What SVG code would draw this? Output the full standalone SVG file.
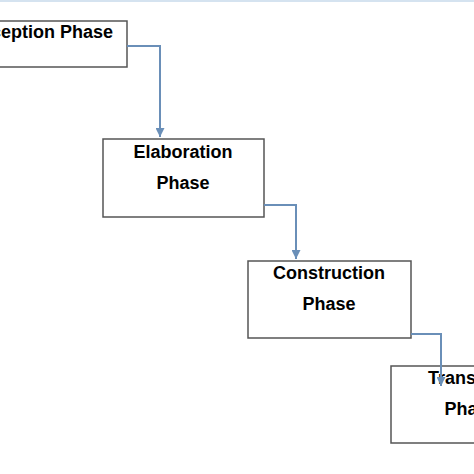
<svg xmlns="http://www.w3.org/2000/svg" width="474" height="474" viewBox="0 0 474 474">
<defs>
<marker id="ah" viewBox="0 0 10 10" refX="10" refY="5" markerWidth="9" markerHeight="9" markerUnits="userSpaceOnUse" orient="auto">
<path d="M0,0 L10,5 L0,10 z" fill="#6a8fb8"/>
</marker>
<style>
.box{fill:#fff;stroke:#555;stroke-width:1.5}
.t{font-family:"Liberation Sans",Arial,sans-serif;font-weight:bold;font-size:18px;fill:#000;text-anchor:middle}
.c{fill:none;stroke:#6a8fb8;stroke-width:2;marker-end:url(#ah)}
</style>
</defs>
<rect x="0" y="0" width="474" height="474" fill="#fff"/>
<rect x="0" y="0" width="474" height="2" fill="#d5e3f0"/>
<g id="inception">
<rect class="box" x="-37" y="21" width="164" height="46"/>
<text class="t" x="44" y="38">Inception Phase</text>
</g>
<g id="elaboration">
<rect class="box" x="103" y="139" width="161" height="78"/>
<text class="t" x="183" y="158">Elaboration</text>
<text class="t" x="183" y="189">Phase</text>
</g>
<g id="construction">
<rect class="box" x="248" y="261" width="163" height="77"/>
<text class="t" x="329" y="279">Construction</text>
<text class="t" x="329" y="310">Phase</text>
</g>
<g id="transition">
<rect class="box" x="391" y="366" width="164" height="77"/>
<text class="t" x="471" y="384">Transition</text>
<text class="t" x="471" y="415">Phase</text>
</g>
<g id="connectors">
<path class="c" d="M127,46 H160 V137"/>
<path class="c" d="M264,205 H296 V259"/>
<path class="c" d="M411,334 H441 V386"/>
</g>
</svg>
